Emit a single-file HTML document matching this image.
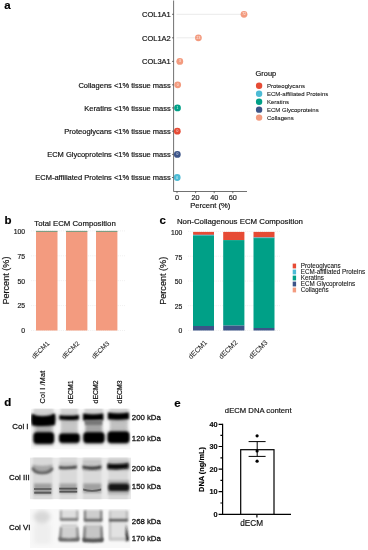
<!DOCTYPE html>
<html lang="en"><head><meta charset="utf-8"><title>Figure</title>
<style>
html,body{margin:0;padding:0;background:#fff;overflow:hidden}
svg{display:block}
text{font-family:"Liberation Sans",sans-serif;fill:#111;stroke:#111;stroke-width:.18px;paint-order:stroke}
.b{font-weight:bold;fill:#000}
.ya{font-size:7.5px;text-anchor:end}
.xt{font-size:7.3px;text-anchor:middle;fill:#222}
.lg{font-size:6px;fill:#111;stroke-width:.08px}
.lg2{font-size:6.32px;fill:#111;stroke-width:.08px}
.ax{stroke:#333;stroke-width:.7;fill:none}
.seg{stroke:#dcdcdc;stroke-width:.6}
.cv{font-size:3.3px;fill:#fff;fill-opacity:.9;text-anchor:middle;stroke:none}
.grid{stroke:#d4d4d4;stroke-width:.5;stroke-dasharray:.7 1.2}
.yt{font-size:6.8px;text-anchor:end;fill:#222}
.hv text{stroke-width:.28px}
.lg text,.lg2 text{stroke-width:.08px}
.rot text{stroke-width:.06px;fill:#222}
.yt text,.xt text{fill:#222}
.rot{font-size:6.6px;text-anchor:end;fill:#222;stroke-width:.05px}
</style></head><body>
<svg width="368" height="550" viewBox="0 0 368 550">
<rect width="368" height="550" fill="#fff"/>

<!-- ===== panel a ===== -->
<g id="pa">
<text class="b" x="4.3" y="9" font-size="11.5">a</text>
<g class="seg">
<line x1="176.5" y1="14.3" x2="244" y2="14.3"/>
<line x1="176.5" y1="37.8" x2="198.4" y2="37.8"/>
<line x1="176.5" y1="61.4" x2="179.8" y2="61.4"/>
</g>
<path class="ax" d="M173.6 0.5V191.5H247"/>
<path class="ax" d="M172 14.3h1.6M172 37.8h1.6M172 61.4h1.6M172 84.8h1.6M172 107.9h1.6M172 131.2h1.6M172 154.4h1.6M172 177.5h1.6"/>
<path class="ax" d="M177 191.5v1.7M195.6 191.5v1.7M214.2 191.5v1.7M232.8 191.5v1.7"/>
<g class="ya">
<text x="170.8" y="16.9">COL1A1</text>
<text x="170.8" y="40.5">COL1A2</text>
<text x="170.8" y="64.1">COL3A1</text>
<text x="170.8" y="87.5">Collagens &lt;1% tissue mass</text>
<text x="170.8" y="110.6">Keratins &lt;1% tissue mass</text>
<text x="170.8" y="133.9">Proteoglycans &lt;1% tissue mass</text>
<text x="170.8" y="157.1">ECM Glycoproteins &lt;1% tissue mass</text>
<text x="170.8" y="180.2">ECM-affiliated Proteins &lt;1% tissue mass</text>
</g>
<circle cx="244" cy="14.3" r="3.4" fill="#F39B7F"/><text class="cv" x="244" y="15.4">72</text>
<circle cx="198.4" cy="37.8" r="3.4" fill="#F39B7F"/><text class="cv" x="198.4" y="38.8">23</text>
<circle cx="179.8" cy="61.4" r="3.4" fill="#F39B7F"/><text class="cv" x="179.8" y="62.4">3</text>
<circle cx="177.7" cy="84.8" r="3.4" fill="#F39B7F"/><text class="cv" x="177.7" y="85.8">0</text>
<circle cx="177.5" cy="107.9" r="3.4" fill="#00A087"/><text class="cv" x="177.5" y="108.9">1</text>
<circle cx="177.3" cy="131.2" r="3.4" fill="#E64B35"/><text class="cv" x="177.3" y="132.2">0</text>
<circle cx="177.3" cy="154.4" r="3.4" fill="#3C5488"/><text class="cv" x="177.3" y="155.4">0</text>
<circle cx="177.2" cy="177.5" r="3.4" fill="#4DBBD5"/><text class="cv" x="177.2" y="178.5">0</text>
<g class="xt">
<text x="177" y="200">0</text><text x="195.6" y="200">20</text><text x="214.2" y="200">40</text><text x="232.8" y="200">60</text>
</g>
<text x="210.3" y="208.3" font-size="7.6" text-anchor="middle">Percent (%)</text>
<text x="255.6" y="76.3" font-size="7.4">Group</text>
<circle cx="259.1" cy="85.8" r="3.2" fill="#E64B35"/>
<circle cx="259.1" cy="93.75" r="3.2" fill="#4DBBD5"/>
<circle cx="259.1" cy="101.7" r="3.2" fill="#00A087"/>
<circle cx="259.1" cy="109.65" r="3.2" fill="#3C5488"/>
<circle cx="259.1" cy="117.6" r="3.2" fill="#F39B7F"/>
<g class="lg">
<text x="267" y="87.9">Proteoglycans</text>
<text x="267" y="95.85">ECM-affiliated Proteins</text>
<text x="267" y="103.8">Keratins</text>
<text x="267" y="111.75">ECM Glycoproteins</text>
<text x="267" y="119.7">Collagens</text>
</g>
</g>
<!-- ===== panel b ===== -->
<g id="pb">
<text class="b" x="4.6" y="224.4" font-size="11.5">b</text>
<text x="34.3" y="226" font-size="7.8">Total ECM Composition</text>
<path class="grid" d="M31 230.9H125.5M31 255.8H125.5M31 280.7H125.5M31 305.6H125.5M31 330.5H125.5"/>
<g class="yt">
<text x="25.1" y="233.9">100</text><text x="25.1" y="258.8">75</text><text x="25.1" y="283.7">50</text><text x="25.1" y="308.3">25</text><text x="25.1" y="333">0</text>
</g>
<text transform="translate(9.1 280.6) rotate(-90)" font-size="9.1" text-anchor="middle">Percent (%)</text>
<g fill="#F39B7F">
<rect x="36" y="230.9" width="21.5" height="99.6"/>
<rect x="66" y="230.9" width="21.4" height="99.6"/>
<rect x="96" y="230.9" width="21.4" height="99.6"/>
</g>
<g fill="#00A087" fill-opacity=".6">
<rect x="36" y="230.9" width="21.5" height=".9"/>
<rect x="66" y="230.9" width="21.4" height=".9"/>
<rect x="96" y="230.9" width="21.4" height=".9"/>
</g>
<g class="rot">
<text transform="translate(49.8 343.8) rotate(-45)">dECM1</text>
<text transform="translate(79.8 343.8) rotate(-45)">dECM2</text>
<text transform="translate(109.8 343.8) rotate(-45)">dECM3</text>
</g>
</g>
<!-- ===== panel c ===== -->
<g id="pc">
<text class="b" x="159.6" y="223.8" font-size="11.5">c</text>
<text x="176.9" y="223.8" font-size="7.85">Non-Collagenous ECM Composition</text>
<path class="grid" d="M188 231.4H280.5M188 256.2H280.5M188 281H280.5M188 305.7H280.5M188 330.5H280.5"/>
<g class="yt">
<text x="182.3" y="234.6">100</text><text x="182.3" y="259.7">75</text><text x="182.3" y="284.2">50</text><text x="182.3" y="308.9">25</text><text x="182.3" y="333.2">0</text>
</g>
<text transform="translate(166.2 280.8) rotate(-90)" font-size="9.1" text-anchor="middle">Percent (%)</text>
<!-- bar1 -->
<rect x="193.1" y="231.9" width="20.9" height="3" fill="#E64B35"/>
<rect x="193" y="234.8" width="21" height="1" fill="#4DBBD5"/>
<rect x="193" y="235.6" width="21" height="90.4" fill="#00A087"/>
<rect x="193" y="326" width="21" height="4.5" fill="#3C5488"/>
<!-- bar2 -->
<rect x="223.2" y="231.9" width="21.2" height="8.2" fill="#E64B35"/>
<rect x="223.2" y="240.1" width="21.2" height="85.5" fill="#00A087"/>
<rect x="223.2" y="325.6" width="21.2" height="4.9" fill="#3C5488"/>
<!-- bar3 -->
<rect x="253.5" y="231.9" width="21" height="5.7" fill="#E64B35"/>
<rect x="253.5" y="237.4" width="21" height="1" fill="#4DBBD5"/>
<rect x="253.5" y="238.1" width="21" height="89.9" fill="#00A087"/>
<rect x="253.5" y="328" width="21" height="2.5" fill="#3C5488"/>
<g class="rot" style="font-size:7px">
<text transform="translate(207.6 343.1) rotate(-45)">dECM1</text>
<text transform="translate(237.9 343.1) rotate(-45)">dECM2</text>
<text transform="translate(268.1 343.1) rotate(-45)">dECM3</text>
</g>
<rect x="292.7" y="263.6" width="3.4" height="4.8" fill="#E64B35"/>
<rect x="292.7" y="269.6" width="3.4" height="4.8" fill="#4DBBD5"/>
<rect x="292.7" y="275.6" width="3.4" height="4.8" fill="#00A087"/>
<rect x="292.7" y="281.6" width="3.4" height="4.8" fill="#3C5488"/>
<rect x="292.7" y="287.6" width="3.4" height="4.8" fill="#F39B7F"/>
<g class="lg2">
<text x="300.7" y="268.2">Proteoglycans</text>
<text x="300.7" y="274.3">ECM-affiliated Proteins</text>
<text x="300.7" y="280.3">Keratins</text>
<text x="300.7" y="286.3">ECM Glycoproteins</text>
<text x="300.7" y="292.3">Collagens</text>
</g>
</g>
<!-- ===== panel d ===== -->
<defs>
<filter id="f05" x="-20%" y="-50%" width="140%" height="200%"><feGaussianBlur stdDeviation="0.5"/></filter>
<filter id="f06" x="-20%" y="-100%" width="140%" height="300%"><feGaussianBlur stdDeviation="0.6"/></filter>
<filter id="f08" x="-20%" y="-50%" width="140%" height="200%"><feGaussianBlur stdDeviation="0.8"/></filter>
<filter id="f10" x="-20%" y="-50%" width="140%" height="200%"><feGaussianBlur stdDeviation="1"/></filter>
<filter id="f12" x="-20%" y="-50%" width="140%" height="200%"><feGaussianBlur stdDeviation="1.2"/></filter>
<filter id="f20" x="-30%" y="-50%" width="160%" height="200%"><feGaussianBlur stdDeviation="2"/></filter>
<clipPath id="c1"><rect x="31" y="408.6" width="99.5" height="41"/></clipPath>
<clipPath id="c2"><rect x="29.8" y="457.4" width="101.2" height="41.8"/></clipPath>
<clipPath id="c3"><rect x="29.8" y="509" width="100.7" height="39"/></clipPath>
</defs>
<g id="pd">
<text class="b" x="4.2" y="405.6" font-size="11.5">d</text>
<g font-size="6.9" fill="#111">
<text transform="translate(45.3 403.5) rotate(-90)" font-size="7.3" letter-spacing=".17">Col I /Mat</text>
<text transform="translate(72.6 403.4) rotate(-90)">dECM1</text>
<text transform="translate(97.6 403.4) rotate(-90)">dECM2</text>
<text transform="translate(122.1 403.4) rotate(-90)">dECM3</text>
</g>
<g class="hv" font-size="7.9">
<text x="12.3" y="429.3">Col I</text>
<text x="9" y="480.3">Col III</text>
<text x="9" y="530.4">Col VI</text>
</g>
<g class="hv" font-size="7.8">
<text x="131.8" y="419.7">200 kDa</text>
<text x="131.8" y="441.2">120 kDa</text>
<text x="131.8" y="471.1">200 kDa</text>
<text x="131.8" y="489.2">150 kDa</text>
<text x="131.8" y="523.9">268 kDa</text>
<text x="131.8" y="541.4">170 kDa</text>
</g>
<!-- blot 1 -->
<g clip-path="url(#c1)">
<rect x="31" y="408.6" width="99.5" height="41" fill="#f7f7f7"/>
<g filter="url(#f12)" fill="#d4d4d4">
<rect x="33.5" y="408" width="20" height="38"/>
<rect x="60.5" y="408" width="17.5" height="37"/>
<rect x="84.5" y="408" width="18.5" height="37"/>
<rect x="109.5" y="408" width="18.5" height="37"/>
</g>
<g filter="url(#f12)" fill="#b2b2b2">
<rect x="36" y="424" width="15.5" height="11"/>
<rect x="62" y="419" width="14.5" height="16" fill="#c6c6c6"/>
<rect x="86" y="419" width="15.5" height="15" fill="#a6a6a6"/>
<rect x="111" y="419" width="15.5" height="14" fill="#c2c2c2"/>
</g>
<g filter="url(#f20)" fill="#8a8a8a" opacity=".8">
<path d="M31.6 414.2Q33.5 413.2 35.5 415.6Q43 417.1 51 415.2Q53 413 55 414Q56 419.4 54.8 425Q43 427 32 425.2Q30.8 419.4 31.6 414.2Z"/>
<rect x="33.5" y="432.2" width="20.5" height="11.6" rx="3.5"/>
<path d="M59.4 415.2Q69 416.6 78.8 415V419.4Q69 420.6 59.4 419.6Z"/>
<rect x="59.2" y="433.6" width="20.4" height="9.2" rx="3"/>
<path d="M83.2 413.4Q93 415.4 103.2 413.4V420Q93 421.4 83.2 420.2Z"/>
<rect x="83.4" y="432.2" width="21" height="10.7" rx="3.5"/>
<path d="M108 412.6Q118 414.6 128.8 412.6V419Q118 420.2 108 419.2Z"/>
<rect x="107.6" y="431.6" width="21.8" height="11.3" rx="3.5"/>
</g>
<g filter="url(#f10)" fill="#000">
<path d="M31.6 414.2Q33.5 413.2 35.5 415.6Q43 417.1 51 415.2Q53 413 55 414Q56 419.4 54.8 425Q43 427 32 425.2Q30.8 419.4 31.6 414.2Z"/>
<rect x="33.5" y="432.2" width="20.5" height="11.6" rx="3.5"/>
<path d="M59.4 415.2Q69 416.6 78.8 415V419.4Q69 420.6 59.4 419.6Z"/>
<rect x="59.2" y="433.6" width="20.4" height="9.2" rx="3"/>
<path d="M83.2 413.4Q93 415.4 103.2 413.4V420Q93 421.4 83.2 420.2Z"/>
<rect x="83.4" y="432.2" width="21" height="10.7" rx="3.5"/>
<path d="M108 412.6Q118 414.6 128.8 412.6V419Q118 420.2 108 419.2Z"/>
<rect x="107.6" y="431.6" width="21.8" height="11.3" rx="3.5"/>
</g>
<g filter="url(#f12)" fill="#777">
<rect x="85" y="420" width="17" height="5"/>
</g>
</g>
<!-- blot 2 -->
<g clip-path="url(#c2)">
<rect x="29.8" y="457.4" width="101.2" height="42" fill="#e9e9e9"/>
<g filter="url(#f12)" fill="#d9d9d9">
<rect x="33" y="456" width="19.5" height="46"/>
<rect x="59.5" y="456" width="17.5" height="46"/>
<rect x="83" y="456" width="18.5" height="46"/>
<rect x="108.5" y="456" width="19.5" height="46"/>
</g>
<g filter="url(#f10)">
<path d="M32.4 464.5Q42 467 52.4 464.5L52 469.5Q42 475.5 33 469.5Z" fill="#a8a8a8"/>
<rect x="34" y="483.5" width="17.5" height="11" fill="#a0a0a0"/>
<rect x="59.6" y="483.5" width="17.2" height="10" fill="#a6a6a6"/>
<rect x="83.3" y="483.5" width="17.9" height="9.5" fill="#a0a0a0"/>
<rect x="59.5" y="462.5" width="17" height="4" fill="#c8c8c8"/>
<rect x="83" y="460" width="18" height="6" fill="#c6c6c6"/>
<rect x="83" y="468" width="18" height="3" fill="#bbb"/>
<rect x="108" y="480" width="21" height="14.5" fill="#b4b4b4"/>
<rect x="108" y="460" width="21" height="11" fill="#c0c0c0"/>
</g>
<g filter="url(#f08)">
<path d="M33 468.7C36 474.1 48 474.5 52 468.9" stroke="#5c5c5c" stroke-width="2.8" fill="none" stroke-linecap="round"/>
<path d="M59 466Q68 467.2 76.8 465.6V468.6Q68 469.8 59 469Z" fill="#404040"/>
<path d="M82.4 465.4Q92 467.8 101.4 465.2V468.4Q92 470.8 82.4 468.6Z" fill="#3a3a3a"/>
<path d="M107.4 463.4Q118 465 128.6 463V468.6Q118 470 107.4 469Z" fill="#080808"/>
<rect x="108.3" y="483.4" width="20.9" height="7.6" rx="2.5" fill="#141414"/>
</g>
<g filter="url(#f06)">
<rect x="34" y="488" width="17.4" height="2" fill="#666"/>
<rect x="34.2" y="491.7" width="17" height="2" fill="#5c5c5c"/>
<rect x="59.2" y="487.7" width="18" height="1.9" fill="#555"/>
<rect x="59.4" y="490.7" width="17.8" height="1.9" fill="#555"/>
<path d="M83.2 488.6Q92 491.4 101.2 488.6V490.4Q92 493.2 83.2 490.4Z" fill="#606060"/>
</g>
</g>
<!-- blot 3 -->
<g clip-path="url(#c3)">
<rect x="29.8" y="509" width="100.7" height="39" fill="#f8f8f8"/>
<g filter="url(#f20)">
<ellipse cx="42" cy="517" rx="8.5" ry="6.5" fill="#d8d8d8"/>
<rect x="34" y="524" width="17" height="20" fill="#eeeeee"/>
</g>
<g filter="url(#f12)">
<rect x="60.4" y="510" width="17.4" height="9" fill="#dedede"/>
<rect x="60.4" y="521.5" width="17.4" height="5" fill="#ececec"/>
<rect x="60.4" y="527" width="17.4" height="13.5" fill="#d0d0d0"/>
<rect x="84.4" y="510" width="17.4" height="9" fill="#cecece"/>
<rect x="84.4" y="521.5" width="17.4" height="5" fill="#dedede"/>
<rect x="84.4" y="527" width="17.4" height="14.5" fill="#c6c6c6"/>
<rect x="109.4" y="510" width="18" height="9" fill="#d8d8d8"/>
<rect x="109.4" y="521.5" width="18" height="19.5" fill="#e2e2e2"/>
</g>
<g filter="url(#f10)">
<rect x="60" y="510.5" width="1.8" height="9" fill="#9c9c9c"/>
<rect x="76.4" y="510.5" width="1.8" height="9" fill="#9c9c9c"/>
<path d="M60.2 527H61.8L61.4 540H58.8Z" fill="#7c7c7c"/>
<path d="M76.4 527H78L79.2 540H76.6Z" fill="#7c7c7c"/>
<rect x="84" y="510.5" width="2" height="10" fill="#787878"/>
<rect x="100.2" y="510.5" width="2" height="10" fill="#787878"/>
<path d="M84 526H85.8L85.4 541H82.8Z" fill="#6c6c6c"/>
<path d="M100.4 526H102.2L103.2 541H100.6Z" fill="#6c6c6c"/>
<rect x="109.2" y="511" width="1.7" height="29" fill="#b8b8b8"/>
<rect x="126" y="511" width="1.7" height="10" fill="#a8a8a8"/>
</g>
<g filter="url(#f08)">
<rect x="60.2" y="518.3" width="17.8" height="2.4" fill="#686868"/>
<rect x="61" y="525" width="16" height="1.6" fill="#bcbcbc"/>
<path d="M58.6 537.6Q69 539.2 79.4 537.6L79 541.2Q69 542 59 541.2Z" fill="#666"/>
<rect x="84.2" y="518.8" width="18" height="2.7" fill="#585858"/>
<rect x="85" y="526" width="16" height="1.6" fill="#b0b0b0"/>
<path d="M82.6 538Q93 539.6 103.4 538L103 542Q93 542.8 83 542Z" fill="#505050"/>
<rect x="109" y="518.9" width="18.8" height="2.6" fill="#505050"/>
<rect x="110" y="537.6" width="15" height="2.6" fill="#c4c4c4"/>
<path d="M126 524L129 540.2L125.6 541.6Z" fill="#1c1c1c"/>
</g>
</g>
</g>
</g>
</g>
</g>
</g>

<!-- ===== panel e ===== -->
<g id="pe">
<text class="b" x="174.2" y="407.4" font-size="11.5">e</text>
<text x="258.2" y="413" font-size="7.7" text-anchor="middle">dECM DNA content</text>
<g stroke="#000" stroke-width="1.2" fill="none">
<path d="M222.6 423.8V514.3M222 514.3H291"/>
<path d="M218.6 424.4H222.6M218.6 446.5H222.6M218.6 469.1H222.6M218.6 491.7H222.6M218.6 514.3H222.6"/>
<path d="M220.4 435.3H222.6M220.4 457.8H222.6M220.4 480.4H222.6M220.4 503H222.6"/>
<path d="M256.9 514.3V517.4"/>
<rect x="240.7" y="449.7" width="33.3" height="64.6" fill="#fff"/>
</g>
<g stroke="#000" stroke-width="1" fill="none">
<path d="M257.2 441.6V456.4M248.6 441.6H265.6M248.6 456.4H265.6"/>
</g>
<circle cx="257.1" cy="435.8" r="1.6" fill="#000"/>
<circle cx="257.1" cy="451" r="1.6" fill="#000"/>
<circle cx="257.1" cy="461.2" r="1.6" fill="#000"/>
<g class="b" font-size="7.3" text-anchor="end">
<text x="217.6" y="426.6">40</text><text x="217.6" y="449.1">30</text><text x="217.6" y="471.7">20</text><text x="217.6" y="494.3">10</text><text x="217.6" y="516.9">0</text>
</g>
<text class="b" transform="translate(203.7 469.5) rotate(-90)" font-size="7.4" text-anchor="middle">DNA (ng/mL)</text>
<text x="251.7" y="525.7" font-size="8.2" text-anchor="middle">dECM</text>
</g>


</svg></body></html>
